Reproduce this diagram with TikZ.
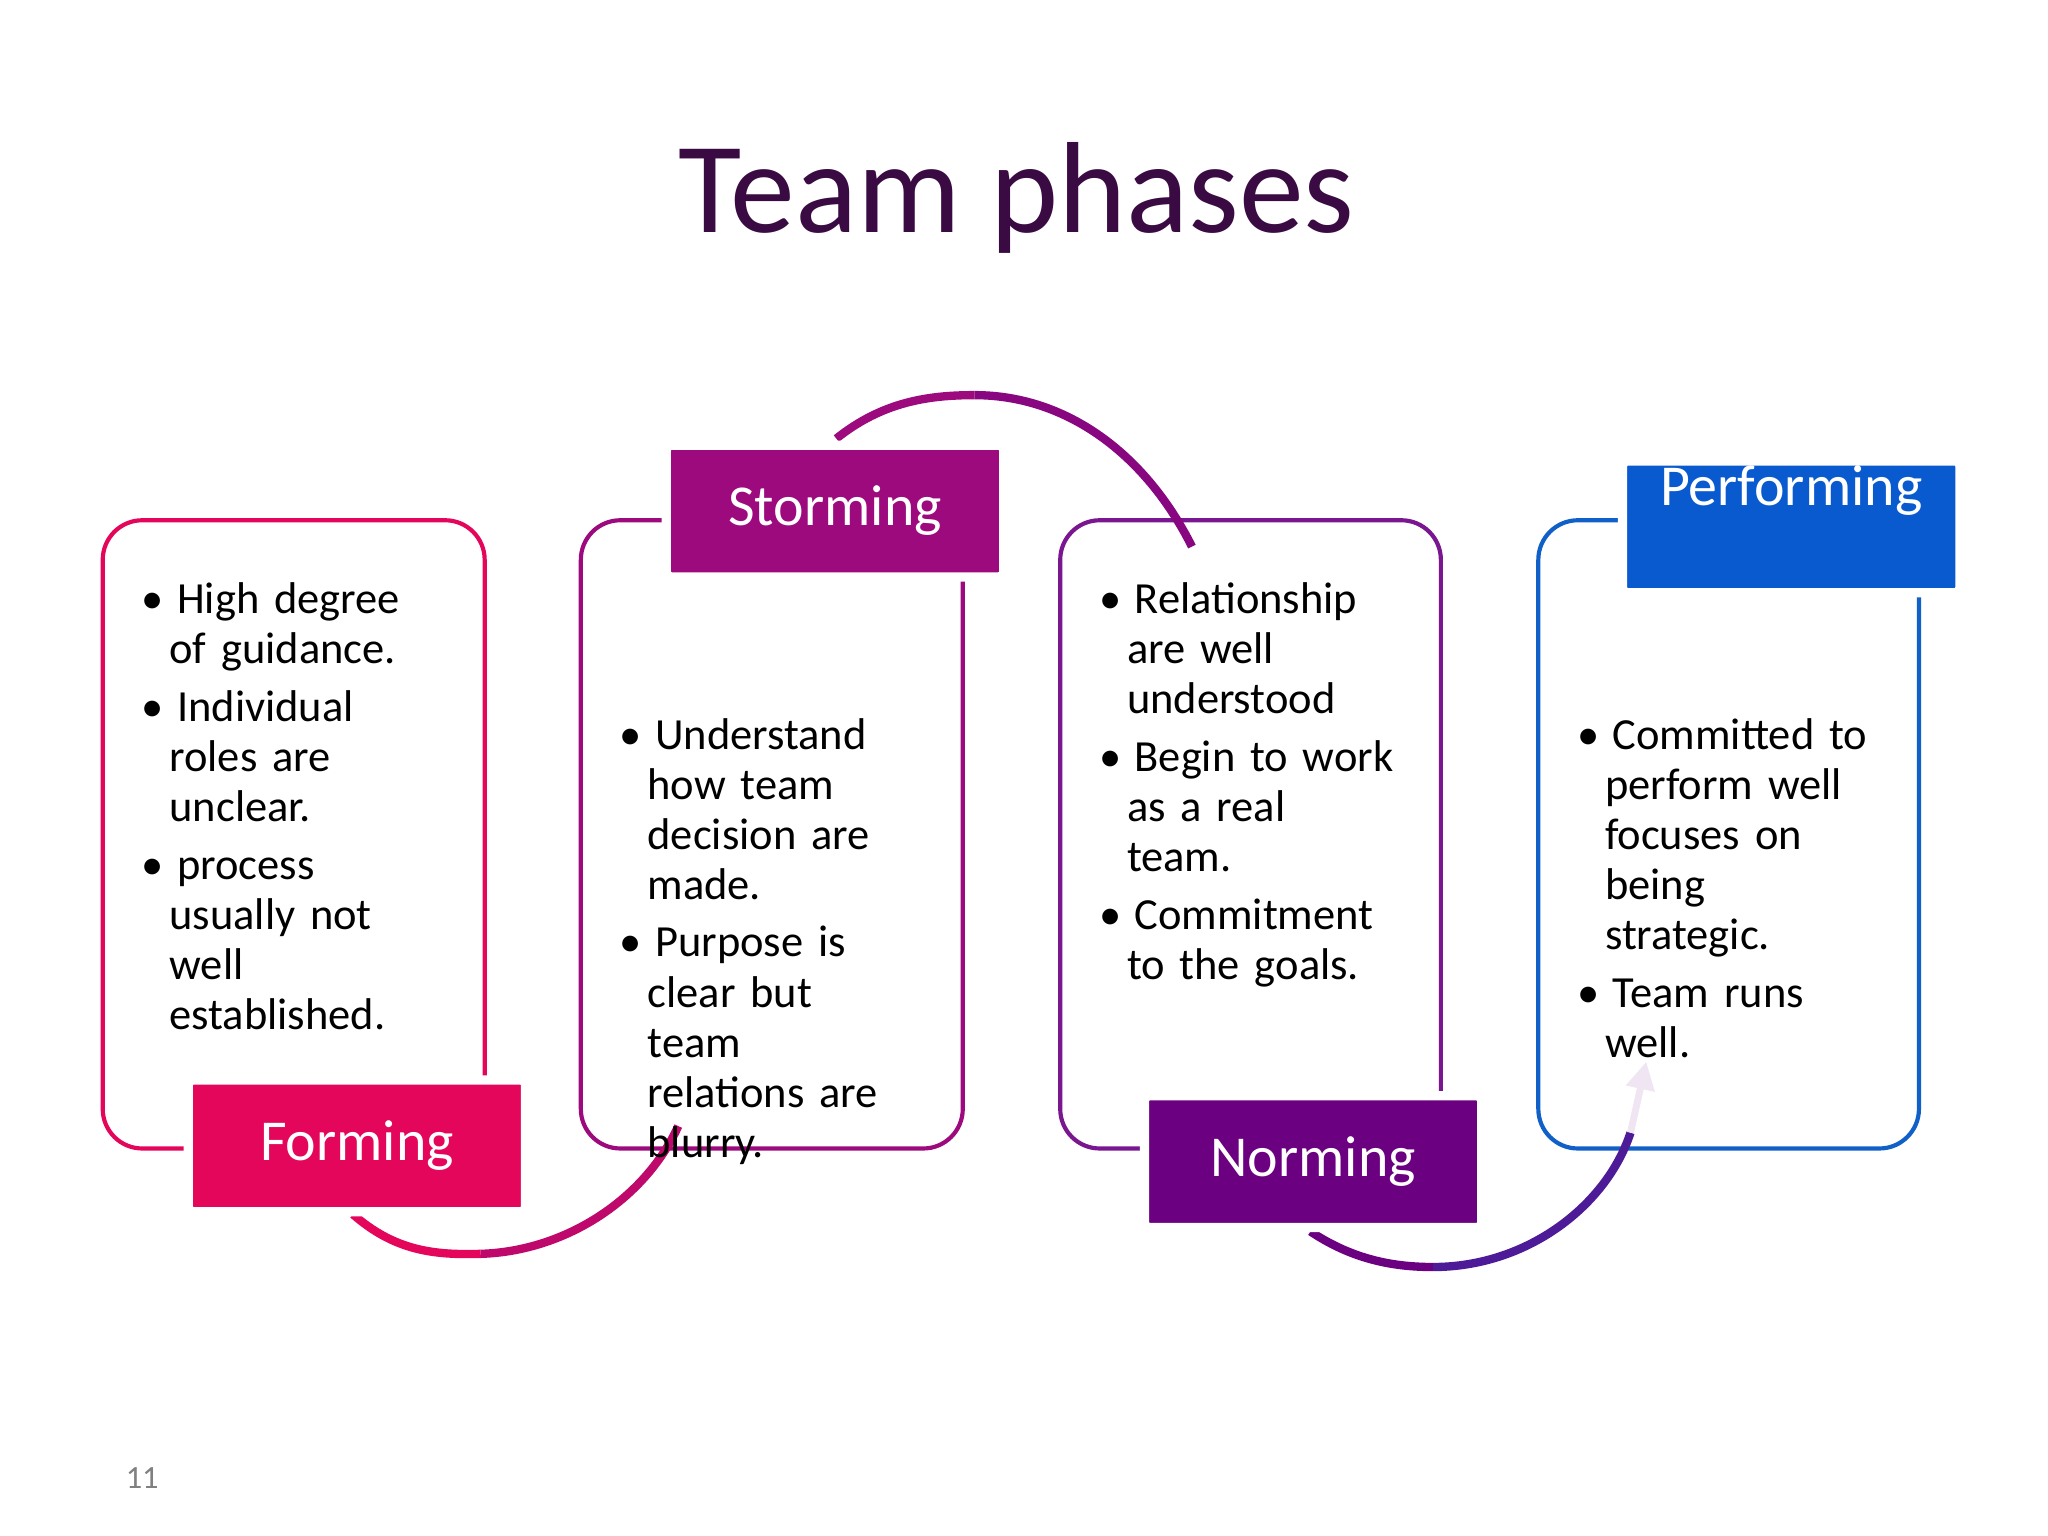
\documentclass[tikz,border=0pt]{standalone}
\usepackage{fontspec}
\setmainfont{Carlito}
\usetikzlibrary{arrows.meta}
\definecolor{cForm}{HTML}{E3065A}
\definecolor{cStorm}{HTML}{9C0A7E}
\definecolor{cNorm}{HTML}{6B0080}
\definecolor{cNormLine}{HTML}{7A1690}
\definecolor{cPerf}{HTML}{0A5ACF}
\definecolor{cPerfLine}{HTML}{1160C8}
\definecolor{cTitle}{HTML}{3A0A42}
\newenvironment{blist}{\begin{list}{\textbullet}{\setlength{\leftmargin}{0.21cm}\setlength{\labelsep}{0.1cm}\setlength{\labelwidth}{0.11cm}\setlength{\itemsep}{0.06cm}\setlength{\parsep}{0pt}\setlength{\topsep}{0pt}\setlength{\partopsep}{0pt}}}{\end{list}}
\begin{document}
\begin{tikzpicture}[x=0.01cm,y=-0.01cm,
  frame/.style={draw=#1, line width=0.9pt, rounded corners=0.3cm},
  tag/.style={fill=#1, draw=white, line width=2pt, rounded corners=1pt, minimum width=2.56cm, minimum height=1cm, text=white, font=\fontsize{12.5}{14}\selectfont, inner sep=0pt},
  body/.style={anchor=north west, text width=2.6cm, align=left, inner sep=0pt, font=\fontsize{9.6}{10.8}\selectfont},
  flow/.style={line width=1.8pt}
]
\useasboundingbox (0,0) rectangle (1555,1166);

\node[text=cTitle, font=\fontsize{28}{32}\selectfont] (title) at (772,150) {Team phases};

% frames
\draw[frame=cForm] (78,395) rectangle (368,872);
\draw[frame=cStorm] (441,395) rectangle (731,872);
\draw[frame=cNormLine] (805,395) rectangle (1094,872);
\draw[frame=cPerfLine] (1168,395) rectangle (1457,872);

% flow arcs
\coordinate (a1) at (268,922); \coordinate (b1) at (365,952); \coordinate (c1) at (515,855);
\coordinate (a2) at (635,333); \coordinate (b2) at (740,300); \coordinate (c2) at (905,415);
\coordinate (a3) at (995,935); \coordinate (b3) at (1088,962); \coordinate (c3) at (1238,860); \coordinate (d3) at (1250,806);
\draw[flow, draw=cForm] (a1) .. controls (300,950) and (330,953) .. (b1);
\draw[flow, draw=cForm!50!cStorm] (b1) .. controls (430,950) and (490,910) .. (c1);
\draw[flow, draw=cStorm] (a2) .. controls (670,305) and (705,300) .. (b2);
\draw[flow, draw=cStorm!60!cNorm] (b2) .. controls (810,300) and (870,345) .. (c2);
\draw[flow, draw=cNorm] (a3) .. controls (1025,955) and (1055,962) .. (b3);
\draw[flow, draw=cNorm!70!cPerf] (b3) .. controls (1160,962) and (1220,915) .. (c3);
\draw[line width=1.5pt, draw=cNorm!10, -{Triangle[width=6pt,length=6pt]}] (c3) -- (d3);

% tags
\node[tag=cForm] (forming) at (271,870) {Forming};
\node[tag=cStorm] (storming) at (634,388) {Storming};
\node[tag=cNorm] (norming) at (997,882) {Norming};
\node[tag=cPerf, text depth=0.62cm] (performing) at (1360,400) {Performing};

% texts
\node[body] (t1) at (107,427) {\begin{blist}
\item High degree\\of guidance.
\item Individual\\roles are\\unclear.
\item process\\usually not\\well\\established.
\end{blist}};
\node[body] (t2) at (470,530) {\begin{blist}
\item Understand\\how team\\decision are\\made.
\item Purpose is\\clear but\\team\\relations are\\blurry.
\end{blist}};
\node[body] (t3) at (834,427) {\begin{blist}
\item Relationship\\are well\\understood
\item Begin to work\\as a real\\team.
\item Commitment\\to the goals.
\end{blist}};
\node[body] (t4) at (1197,530) {\begin{blist}
\item Committed to\\perform well\\focuses on\\being\\strategic.
\item Team runs\\well.
\end{blist}};

\node[text=gray, font=\fontsize{7}{8}\selectfont] (page) at (108,1122) {11};
\end{tikzpicture}
\end{document}
